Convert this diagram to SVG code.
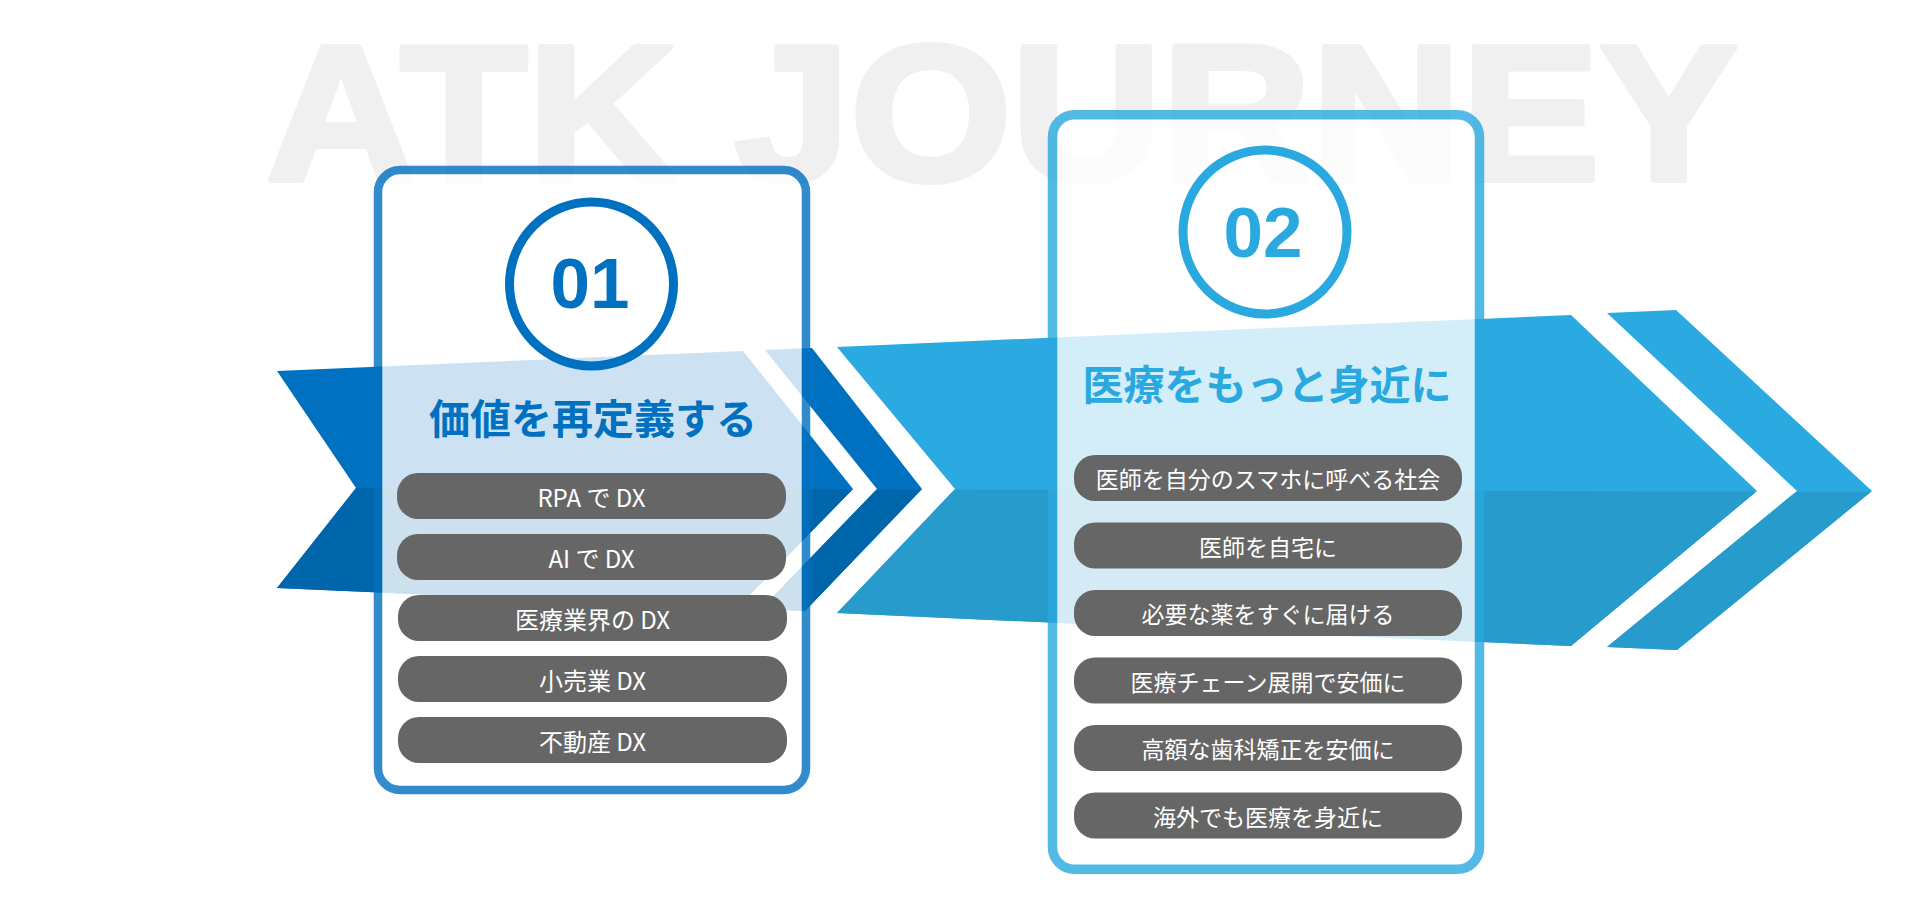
<svg xmlns="http://www.w3.org/2000/svg" xmlns:xlink="http://www.w3.org/1999/xlink" width="1920" height="900" viewBox="0 0 1920 900">
<style>
.bg-title{font-family:"Liberation Sans",Arial,sans-serif;font-weight:bold;fill:#F0F0F0;stroke:#F0F0F0;stroke-width:6;stroke-linejoin:round;}
.num{font-family:"Liberation Sans",Arial,sans-serif;font-weight:bold;text-anchor:middle;}
.ttl{font-family:"Noto Sans CJK JP","Noto Sans",sans-serif;font-weight:bold;text-anchor:middle;font-size:41px;}
.pill{fill:#666666;}
.pt{font-family:"Noto Sans CJK JP","Noto Sans",sans-serif;fill:#FFFFFF;text-anchor:middle;dominant-baseline:central;}
.c1{fill:#0070C0;}
.c2{fill:#29A9E0;}
.card{fill:#FFFFFF;opacity:0.8;}
</style>
<defs>
<clipPath id="lower"><polygon points="0,487 1920,492 1920,900 0,900"/></clipPath>
<path id="darkBody" d="M277,371 L743,351 L853,489 L737,608 L277,588 L356,488 Z"/>
<path id="darkStripe" d="M765,350 L812,348 L922,489 L805,611 L761,609 L877,489 Z"/>
<path id="lightBody" d="M837,347 L1571,315 L1757,491 L1571,646 L837,613 L955,489 Z"/>
<path id="lightStripe" d="M1607,313 L1676,310 L1872,491 L1677,650 L1607,647 L1797,491 Z"/>
</defs>
<rect width="1920" height="900" fill="#FFFFFF"/>
<g id="background-title">
<text class="bg-title" x="266" y="180" font-size="193" textLength="1472" lengthAdjust="spacingAndGlyphs">ATK JOURNEY</text>
</g>
<g id="ribbon">
<use xlink:href="#darkBody" fill="#0070C0"/>
<use xlink:href="#darkStripe" fill="#0070C0"/>
<use xlink:href="#lightBody" fill="#2AAAE1"/>
<use xlink:href="#lightStripe" fill="#2AAAE1"/>
<g clip-path="url(#lower)">
<use xlink:href="#darkBody" fill="#0066AB"/>
<use xlink:href="#darkStripe" fill="#0066AB"/>
<use xlink:href="#lightBody" fill="#289BCD"/>
<use xlink:href="#lightStripe" fill="#289BCD"/>
</g>
</g>
<g id="card-01">
<rect class="card" x="378" y="170" width="428" height="620" rx="22" stroke="#0070C0" stroke-width="8.5"/>
<circle cx="591.5" cy="284" r="82" fill="none" stroke="#0070C0" stroke-width="9"/>
<text class="num c1" x="590" y="308" font-size="71">01</text>
<text class="ttl c1" x="593" y="434">価値を再定義する</text>
<rect class="pill" x="397" y="473" width="389" height="46" rx="21"/>
<text class="pt" x="591.5" y="496" font-size="24">RPA で DX</text>
<rect class="pill" x="397" y="534" width="389" height="46" rx="21"/>
<text class="pt" x="591.5" y="557" font-size="24">AI で DX</text>
<rect class="pill" x="398" y="595" width="389" height="46" rx="21"/>
<text class="pt" x="592.5" y="618" font-size="24">医療業界の DX</text>
<rect class="pill" x="398" y="656" width="389" height="46" rx="21"/>
<text class="pt" x="592.5" y="679" font-size="24">小売業 DX</text>
<rect class="pill" x="398" y="717" width="389" height="46" rx="21"/>
<text class="pt" x="592.5" y="740" font-size="24">不動産 DX</text>
</g>
<g id="card-02">
<rect class="card" x="1052.5" y="114.75" width="427" height="754.5" rx="22" stroke="#29A9E0" stroke-width="9.5"/>
<circle cx="1265" cy="232" r="82" fill="none" stroke="#29A9E0" stroke-width="9"/>
<text class="num c2" x="1263" y="257" font-size="71">02</text>
<text class="ttl c2" x="1267" y="400">医療をもっと身近に</text>
<rect class="pill" x="1074" y="455" width="388" height="46" rx="21"/>
<text class="pt" x="1268" y="478" font-size="23">医師を自分のスマホに呼べる社会</text>
<rect class="pill" x="1074" y="522.5" width="388" height="46" rx="21"/>
<text class="pt" x="1268" y="545.5" font-size="23">医師を自宅に</text>
<rect class="pill" x="1074" y="590" width="388" height="46" rx="21"/>
<text class="pt" x="1268" y="613" font-size="23">必要な薬をすぐに届ける</text>
<rect class="pill" x="1074" y="657.5" width="388" height="46" rx="21"/>
<text class="pt" x="1268" y="680.5" font-size="23">医療チェーン展開で安価に</text>
<rect class="pill" x="1074" y="725" width="388" height="46" rx="21"/>
<text class="pt" x="1268" y="748" font-size="23">高額な歯科矯正を安価に</text>
<rect class="pill" x="1074" y="792.5" width="388" height="46" rx="21"/>
<text class="pt" x="1268" y="815.5" font-size="23">海外でも医療を身近に</text>
</g>
</svg>
